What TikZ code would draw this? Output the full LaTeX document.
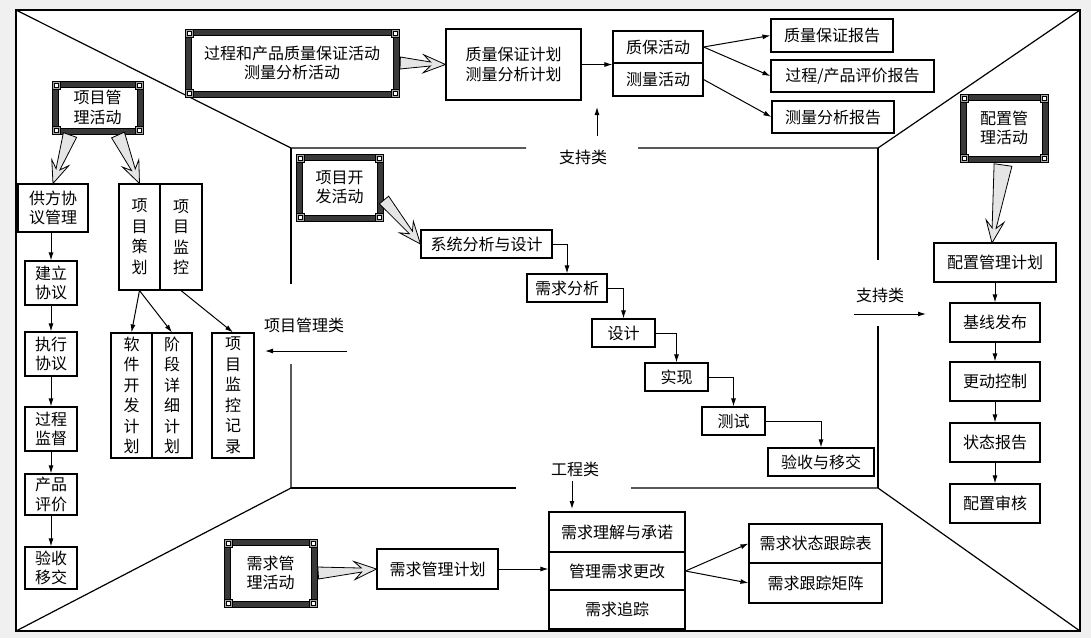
\documentclass[tikz,border=0pt]{standalone}
\usepackage{fontspec}
\setmainfont{Noto Sans CJK SC}
\usetikzlibrary{calc,arrows.meta}
\newcommand\bx[6]{\node[box,minimum width={(#4-#2)*1pt},minimum height={(#5-#3)*1pt}] (#1) at ({(#2+#4)/2},{(#3+#5)/2}) {#6};}
\newcommand\fancybox[6]{%
  \draw[line width=6pt, gray!45!black] ({#2+4},{#3+4}) rectangle ({#4-4},{#5-4});
  \draw[line width=.7pt] ({#2+1},{#3+1}) rectangle ({#4-1},{#5-1});
  \draw[line width=.7pt,fill=white] ({#2+7},{#3+7}) rectangle ({#4-7},{#5-7});
  \foreach \cx/\cy/\sx/\sy in {#2/#3/1/1, #4/#3/-1/1, #2/#5/1/-1, #4/#5/-1/-1}
    {\draw[line width=.6pt,fill=gray!70] ({\cx+\sx*1},{\cy+\sy*1}) rectangle ({\cx+\sx*9},{\cy+\sy*9});
     \draw[line width=.5pt,fill=white] ({\cx+\sx*3},{\cy+\sy*3}) rectangle ({\cx+\sx*7},{\cy+\sy*7});}
  \node[align=center,inner sep=0pt,minimum width={(#4-#2)*1pt},minimum height={(#5-#3)*1pt}] (#1) at ({(#2+#4)/2},{(#3+#5)/2}) {#6};}
\newcommand\bigarr[3][6pt]{%
  \draw[line width=.8pt,fill=gray!20,line join=miter]
    ($(#2)!#1!90:(#3)$) -- ($(#3)!15pt!(#2)!2pt!90:(#3)$) -- ($(#3)!22pt!(#2)!9pt!90:(#3)$) -- (#3)
    -- ($(#3)!22pt!(#2)!9pt!-90:(#3)$) -- ($(#3)!15pt!(#2)!2pt!-90:(#3)$) -- ($(#2)!#1!-90:(#3)$) -- cycle;}
\begin{document}
\begin{tikzpicture}[x=1pt,y=-1pt,
  box/.style={draw,line width=1.1pt,inner sep=0pt,align=center,fill=white},
  vt/.style={box,font=\fontsize{16}{20.5}\selectfont},
  arr/.style={-{Latex[length=8pt,width=5pt]},line width=1pt},
  fr/.style={line width=1.2pt},
  lab/.style={inner sep=0pt},
  every node/.style={font=\fontsize{16}{19.5}\selectfont}]
\useasboundingbox (0,0) rectangle (1091,638);
\fill[gray!12] (0,0) rectangle (1091,638);
\fill[white] (16,10) rectangle (1080,631);
\draw[fr] (16,10) rectangle (1080,631);
% perspective lines
\draw[fr] (16,10) -- (291,148) -- (526,148);
\draw[fr] (638,148) -- (878,148) -- (1080,10);
\draw[fr] (291,148) -- (291,284);
\draw[fr] (291,364) -- (291,488) -- (16,631);
\draw[fr] (291,488) -- (516,488);
\draw[fr] (631,488) -- (878,488) -- (1080,631);
\draw[fr] (878,148) -- (878,260);
\draw[fr] (878,326) -- (878,488);
% category labels
\node[lab] (l1) at (583,157) {支持类};
\coordinate (l1a) at (597,136); \coordinate (l1b) at (597,107);
\draw[arr] (l1a) -- (l1b);
\node[lab] (l2) at (304,325) {项目管理类};
\coordinate (l2a) at (347,351); \coordinate (l2b) at (265,351);
\draw[arr] (l2a) -- (l2b);
\node[lab] (l3) at (880,295) {支持类};
\coordinate (l3a) at (854,314); \coordinate (l3b) at (926,314);
\draw[arr] (l3a) -- (l3b);
\node[lab] (l4) at (575,469) {工程类};
\coordinate (l4a) at (572,481); \coordinate (l4b) at (572,509);
\draw[arr] (l4a) -- (l4b);
% top: QA
\fancybox{qa}{184}{28}{400}{98}{过程和产品质量保证活动\\测量分析活动}
\bx{qap}{446}{29}{581}{100}{质量保证计划\\测量分析计划}
\bx{zb}{613}{31}{703}{63}{质保活动}
\bx{cl}{613}{63}{703}{96}{测量活动}
\bx{r1}{771}{19}{893}{52}{质量保证报告}
\bx{r2}{771}{60}{934}{92}{过程/产品评价报告}
\bx{r3}{772}{101}{894}{133}{测量分析报告}
\bigarr{qa.east}{qap.west}
\draw[arr] (qap.east) -- (qap.east -| zb.west);
\draw[arr] (zb.east) -- (r1.west);
\draw[arr] (zb.east) -- (r2.west);
\draw[arr] (cl.east) -- (r3.west);
% left: project management
\fancybox{pm}{51}{80}{144}{135}{项目管\\理活动}
\bx{gf}{18}{184}{88}{232}{供方协\\议管理}
\bx{jl}{25}{261}{77}{305}{建立\\协议}
\bx{zx}{25}{332}{77}{376}{执行\\协议}
\bx{gc}{25}{407}{77}{451}{过程\\监督}
\bx{cp}{25}{474}{77}{515}{产品\\评价}
\bx{ys}{25}{547}{77}{589}{验收\\移交}
\draw[arr] (gf.south -| jl.north) -- (jl.north);
\draw[arr] (jl) -- (zx);
\draw[arr] (zx) -- (gc);
\draw[arr] (gc) -- (cp);
\draw[arr] (cp) -- (ys);
\node[vt,minimum width=41pt,minimum height=106pt] (ch) at (139.5,237) {项\\目\\策\\划};
\node[vt,minimum width=42pt,minimum height=106pt] (jk) at (181,237) {项\\目\\监\\控};
\node[vt,minimum width=41pt,minimum height=125pt] (rj) at (131.5,395.5) {软\\件\\开\\发\\计\\划};
\node[vt,minimum width=40pt,minimum height=125pt] (jd) at (172,395.5) {阶\\段\\详\\细\\计\\划};
\node[vt,minimum width=42pt,minimum height=125pt] (jl2) at (233,395.5) {项\\目\\监\\控\\记\\录};
\draw[arr] (ch.south) -- (rj.north);
\draw[arr] (ch.south) -- (jd.north);
\draw[arr] (jk.south) -- (jl2.north);
\coordinate (pm1) at (70,135); \coordinate (pm2) at (118,135);
\bigarr[7pt]{pm1}{gf.north}
\bigarr[7pt]{pm2}{ch.north}
% center: development
\fancybox{kf}{295}{153}{384}{222}{项目开\\发活动}
\bx{xt}{421}{230}{552}{258}{系统分析与设计}
\bx{xq}{527}{274}{607}{302}{需求分析}
\bx{sj}{592}{319}{655}{347}{设计}
\bx{sx}{645}{363}{708}{391}{实现}
\bx{cs}{702}{407}{765}{435}{测试}
\bx{yj}{768}{448}{874}{476}{验收与移交}
\coordinate (kfo) at (384,200);
\bigarr{kfo}{xt.west}
\draw[arr] (xt.east) -| (xq.north);
\draw[arr] (xq.east) -| (sj.north);
\draw[arr] (sj.east) -| (sx.north);
\draw[arr] (sx.east) -| (cs.north);
\draw[arr] (cs.east) -| (yj.north);
% bottom: requirements
\fancybox{xm}{223}{538}{318}{608}{需求管\\理活动}
\bx{xmp}{377}{549}{498}{589}{需求管理计划}
\bx{q1}{549}{512}{685}{552}{需求理解与承诺}
\bx{q2}{549}{552}{685}{590}{管理需求更改}
\bx{q3}{549}{590}{685}{629}{需求追踪}
\bx{t1}{749}{524}{882}{563}{需求状态跟踪表}
\bx{t2}{749}{563}{882}{603}{需求跟踪矩阵}
\bigarr{xm.east}{xmp.west}
\draw[arr] (xmp.east) -- (xmp.east -| q2.west);
\draw[arr] (q2.east) -- (t1.west);
\draw[arr] (q2.east) -- (t2.west);
% right: configuration
\fancybox{pz}{959}{93}{1049}{163}{配置管\\理活动}
\bx{pzp}{934}{243}{1056}{282}{配置管理计划}
\bx{jx}{950}{303}{1040}{342}{基线发布}
\bx{gd}{950}{362}{1040}{401}{更动控制}
\bx{zt}{950}{423}{1040}{462}{状态报告}
\bx{sh}{950}{484}{1040}{523}{配置审核}
\coordinate (pzo) at (1003,165);
\coordinate (pzi) at (992,243);
\bigarr[9pt]{pzo}{pzi}
\draw[arr] (pzp.south -| jx.north) -- (jx.north);
\draw[arr] (jx) -- (gd);
\draw[arr] (gd) -- (zt);
\draw[arr] (zt) -- (sh);
\end{tikzpicture}
\end{document}
